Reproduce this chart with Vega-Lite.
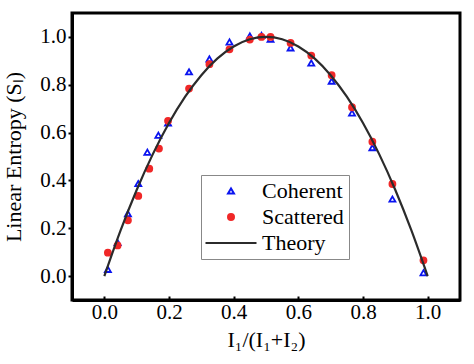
{
  "$schema": "https://vega.github.io/schema/vega-lite/v6.json",
  "width": 388,
  "height": 287,
  "autosize": "none",
  "padding": {"left": 72, "top": 13, "right": 14, "bottom": 64},
  "background": "white",
  "config": {
    "font": "Liberation Serif",
    "view": {"stroke": "black", "strokeWidth": 3},
    "axis": {
      "domainColor": "black", "domainWidth": 3, "grid": false,
      "tickColor": "black", "tickWidth": 2,
      "labelColor": "black", "titleColor": "black",
      "labelFont": "Liberation Serif", "titleFont": "Liberation Serif",
      "labelFontSize": 21, "titleFontSize": 22, "titleFontWeight": "normal"
    }
  },
  "datasets": {
    "theory": [
      {"x": 0.0, "y": 0.0, "series": "Theory"},
      {"x": 0.05, "y": 0.19, "series": "Theory"},
      {"x": 0.1, "y": 0.36, "series": "Theory"},
      {"x": 0.15, "y": 0.51, "series": "Theory"},
      {"x": 0.2, "y": 0.64, "series": "Theory"},
      {"x": 0.25, "y": 0.75, "series": "Theory"},
      {"x": 0.3, "y": 0.84, "series": "Theory"},
      {"x": 0.35, "y": 0.91, "series": "Theory"},
      {"x": 0.4, "y": 0.96, "series": "Theory"},
      {"x": 0.45, "y": 0.99, "series": "Theory"},
      {"x": 0.5, "y": 1.0, "series": "Theory"},
      {"x": 0.55, "y": 0.99, "series": "Theory"},
      {"x": 0.6, "y": 0.96, "series": "Theory"},
      {"x": 0.65, "y": 0.91, "series": "Theory"},
      {"x": 0.7, "y": 0.84, "series": "Theory"},
      {"x": 0.75, "y": 0.75, "series": "Theory"},
      {"x": 0.8, "y": 0.64, "series": "Theory"},
      {"x": 0.85, "y": 0.51, "series": "Theory"},
      {"x": 0.9, "y": 0.36, "series": "Theory"},
      {"x": 0.95, "y": 0.19, "series": "Theory"},
      {"x": 1.0, "y": 0.0, "series": "Theory"}
    ],
    "measured": [
      {"x": 0.011, "y": 0.028, "series": "Coherent"},
      {"x": 0.041, "y": 0.140, "series": "Coherent"},
      {"x": 0.073, "y": 0.261, "series": "Coherent"},
      {"x": 0.105, "y": 0.387, "series": "Coherent"},
      {"x": 0.133, "y": 0.518, "series": "Coherent"},
      {"x": 0.167, "y": 0.589, "series": "Coherent"},
      {"x": 0.197, "y": 0.640, "series": "Coherent"},
      {"x": 0.262, "y": 0.854, "series": "Coherent"},
      {"x": 0.325, "y": 0.908, "series": "Coherent"},
      {"x": 0.387, "y": 0.979, "series": "Coherent"},
      {"x": 0.450, "y": 1.004, "series": "Coherent"},
      {"x": 0.486, "y": 1.006, "series": "Coherent"},
      {"x": 0.514, "y": 0.990, "series": "Coherent"},
      {"x": 0.576, "y": 0.954, "series": "Coherent"},
      {"x": 0.640, "y": 0.891, "series": "Coherent"},
      {"x": 0.703, "y": 0.815, "series": "Coherent"},
      {"x": 0.766, "y": 0.682, "series": "Coherent"},
      {"x": 0.829, "y": 0.537, "series": "Coherent"},
      {"x": 0.891, "y": 0.322, "series": "Coherent"},
      {"x": 0.987, "y": 0.014, "series": "Coherent"},
      {"x": 0.011, "y": 0.098, "series": "Scattered"},
      {"x": 0.041, "y": 0.128, "series": "Scattered"},
      {"x": 0.073, "y": 0.233, "series": "Scattered"},
      {"x": 0.105, "y": 0.335, "series": "Scattered"},
      {"x": 0.139, "y": 0.449, "series": "Scattered"},
      {"x": 0.169, "y": 0.533, "series": "Scattered"},
      {"x": 0.197, "y": 0.649, "series": "Scattered"},
      {"x": 0.262, "y": 0.784, "series": "Scattered"},
      {"x": 0.325, "y": 0.886, "series": "Scattered"},
      {"x": 0.387, "y": 0.948, "series": "Scattered"},
      {"x": 0.450, "y": 0.989, "series": "Scattered"},
      {"x": 0.486, "y": 1.000, "series": "Scattered"},
      {"x": 0.514, "y": 1.000, "series": "Scattered"},
      {"x": 0.576, "y": 0.975, "series": "Scattered"},
      {"x": 0.640, "y": 0.922, "series": "Scattered"},
      {"x": 0.703, "y": 0.840, "series": "Scattered"},
      {"x": 0.766, "y": 0.706, "series": "Scattered"},
      {"x": 0.829, "y": 0.562, "series": "Scattered"},
      {"x": 0.891, "y": 0.385, "series": "Scattered"},
      {"x": 0.987, "y": 0.066, "series": "Scattered"}
    ]
  },
  "layer": [
    {
      "data": {"name": "measured"},
      "mark": {"type": "point", "filled": true, "size": 36, "strokeWidth": 1.8, "opacity": 1},
      "encoding": {
        "x": {
          "field": "x", "type": "quantitative",
          "scale": {"domain": [-0.1, 1.1], "nice": false, "zero": false},
          "axis": {
            "values": [0, 0.1, 0.2, 0.3, 0.4, 0.5, 0.6, 0.7, 0.8, 0.9, 1.0],
            "labelExpr": "abs(round(datum.value*10))%2==1 ? '' : format(datum.value,'.1f')",
            "labelFont": "Liberation Serif", "titleFont": "Liberation Serif",
            "tickSize": -4, "labelPadding": 5, "labelOverlap": false,
            "title": "I₁/(I₁+I₂)", "titlePadding": 7
          }
        },
        "y": {
          "field": "y", "type": "quantitative",
          "scale": {"domain": [-0.1, 1.1], "nice": false, "zero": false},
          "axis": {
            "values": [0, 0.1, 0.2, 0.3, 0.4, 0.5, 0.6, 0.7, 0.8, 0.9, 1.0],
            "labelExpr": "abs(round(datum.value*10))%2==1 ? '' : format(datum.value,'.1f')",
            "labelFont": "Liberation Serif", "titleFont": "Liberation Serif",
            "tickSize": 4, "labelPadding": 2, "labelOverlap": false,
            "title": "Linear Entropy (Sₗ)", "titlePadding": 14
          }
        },
        "shape": {
          "field": "series", "type": "nominal",
          "scale": {"domain": ["Coherent", "Scattered", "Theory"], "range": ["triangle-up", "circle", "M-8.5,0H8.5"]}
        },
        "fill": {
          "field": "series", "type": "nominal",
          "scale": {"domain": ["Coherent", "Scattered", "Theory"], "range": ["transparent", "#f02828", "transparent"]}
        },
        "stroke": {
          "field": "series", "type": "nominal",
          "scale": {"domain": ["Coherent", "Scattered", "Theory"], "range": ["#0a14f0", "#f02828", "#2b2b2b"]},
          "legend": {
            "orient": "none", "legendX": 129, "legendY": 162, "title": null,
            "labelFont": "Liberation Serif", "labelFontSize": 22, "labelColor": "black",
            "symbolSize": 36, "symbolStrokeWidth": 2, "labelOffset": 20, "symbolOffset": 14,
            "strokeColor": "#888888", "fillColor": "white", "padding": 5, "rowPadding": 4
          }
        }
      }
    },
    {
      "data": {"name": "theory"},
      "mark": {"type": "line", "interpolate": "monotone", "strokeWidth": 2.2},
      "encoding": {
        "x": {"field": "x", "type": "quantitative"},
        "y": {"field": "y", "type": "quantitative"},
        "stroke": {"field": "series", "type": "nominal"}
      }
    }
  ]
}
